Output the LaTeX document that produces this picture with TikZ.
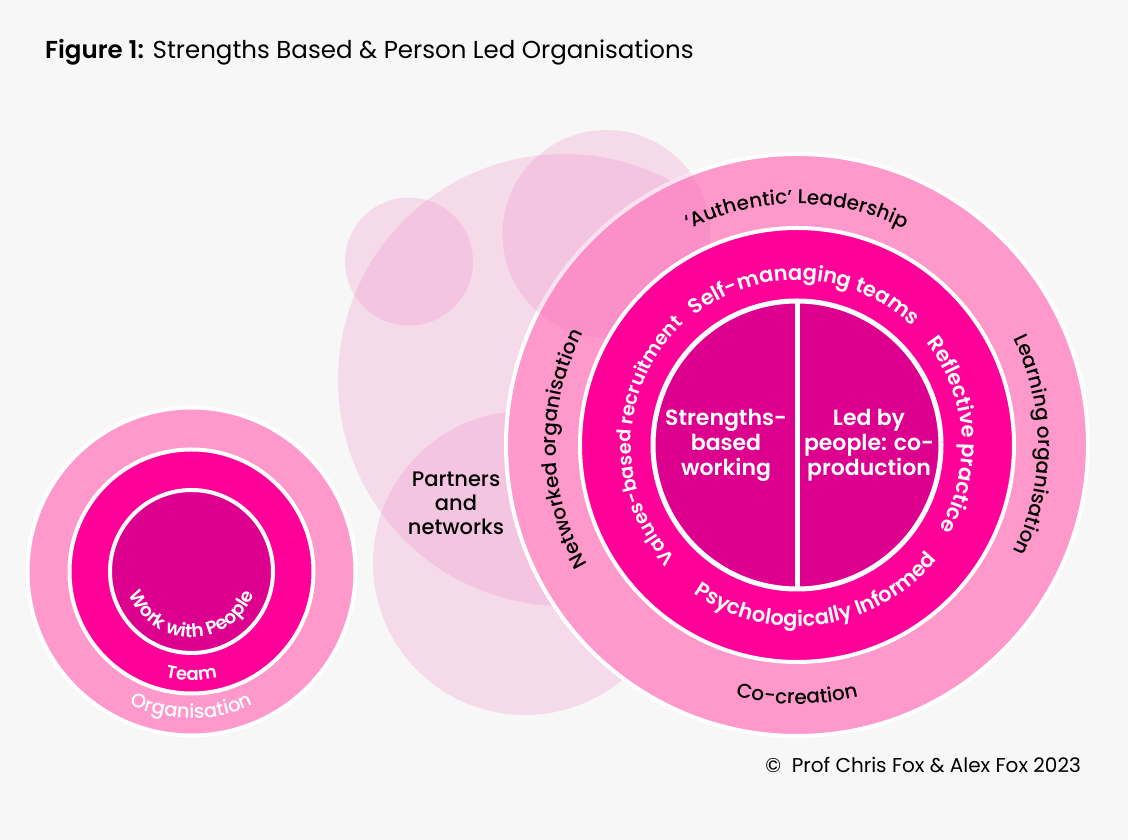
\documentclass[tikz,border=0pt]{standalone}
\usepackage{fontspec}
\setmainfont{Poppins}
\newfontfamily\popmed{Poppins Medium}
\newfontfamily\popsemi{Poppins SemiBold}
\usetikzlibrary{decorations.text}

\definecolor{bgcol}{HTML}{F7F7F7}
\definecolor{ringout}{HTML}{FF99CC}
\definecolor{ringmid}{HTML}{FF0099}
\definecolor{ringcore}{HTML}{DD008F}
\definecolor{hazecol}{HTML}{EE6FB9}

\newcommand\blackring{\popmed\fontsize{20}{20}\selectfont}
\newcommand\whitering{\popsemi\fontsize{21}{21}\selectfont}

\tikzset{
  hazedisc/.style={fill=hazecol, fill opacity=0.2},
  ringdisc/.style={fill=#1, draw=white, line width=4pt},
  ringlabel/.style n args={3}{decorate, decoration={text along path, text align=center, text color=#1, text={|#2|#3}}},
}

\begin{document}
\begin{tikzpicture}[x=1pt,y=1pt]
  \fill[bgcol] (0,0) rectangle (1128,840);
  \coordinate (bigc) at (797,395);
  \coordinate (smallc) at (191.5,268.5);

  %Shape: faint circles behind
  \fill[hazedisc] (564,460) circle[radius=226pt];
  \fill[hazedisc] (409,578.5) circle[radius=64pt];
  \fill[hazedisc] (525,277) circle[radius=152pt];

  %Shape: big circle
  \draw[ringdisc=ringout] (bigc) circle[radius=291pt];
  \fill[hazedisc] (606.5,606) circle[radius=104pt];
  \draw[ringdisc=ringmid] (bigc) circle[radius=217pt];
  \draw[ringdisc=ringcore, line width=5pt] (bigc) circle[radius=144pt];
  \draw[white, line width=5pt] ([yshift=144pt]bigc) -- ([yshift=-144pt]bigc);

  %Shape: small circle
  \draw[ringdisc=ringout] (smallc) circle[radius=164pt];
  \draw[ringdisc=ringmid] (smallc) circle[radius=122pt];
  \draw[ringdisc=ringcore] (smallc) circle[radius=81.5pt];

  % outer ring labels
  \path[ringlabel={black}{\blackring}{‘Authentic’ Leadership}] ([shift={(170:241pt)}]bigc) arc[start angle=170, end angle=10, radius=241pt];
  \path[ringlabel={black}{\blackring}{Networked organisation}] ([shift={(261:241pt)}]bigc) arc[start angle=261, end angle=101, radius=241pt];
  \path[ringlabel={black}{\blackring}{Learning organisation}] ([shift={(80:241pt)}]bigc) arc[start angle=80, end angle=-80, radius=241pt];
  \path[ringlabel={black}{\blackring}{Co-creation}] ([shift={(200:259pt)}]bigc) arc[start angle=200, end angle=340, radius=259pt];

  % middle ring labels
  \path[ringlabel={white}{\whitering}{Self-managing teams}] ([shift={(167:165pt)}]bigc) arc[start angle=167, end angle=7, radius=165pt];
  \path[ringlabel={white}{\whitering}{Reflective practice}] ([shift={(84:165pt)}]bigc) arc[start angle=84, end angle=-76, radius=165pt];
  \path[ringlabel={white}{\popsemi\fontsize{19.2}{19.2}\selectfont}{Values-based recruitment}] ([shift={(258:166pt)}]bigc) arc[start angle=258, end angle=98, radius=166pt];
  \path[ringlabel={white}{\whitering}{Psychologically Informed}] ([shift={(198:181pt)}]bigc) arc[start angle=198, end angle=358, radius=181pt];

  % small circle labels
  \path[ringlabel={white}{\popsemi\fontsize{18.5}{18.5}\selectfont}{Work with People}] ([shift={(170:66pt)}]smallc) arc[start angle=170, end angle=370, radius=66pt];
  \path[ringlabel={white}{\popsemi\fontsize{18}{18}\selectfont}{Team}] ([shift={(200:109pt)}]smallc) arc[start angle=200, end angle=340, radius=109pt];
  \path[ringlabel={white}{\popmed\fontsize{19.5}{19.5}\selectfont}{Organisation}] ([shift={(210:147pt)}]smallc) arc[start angle=210, end angle=330, radius=147pt];

  % centre texts
  \node[white, align=center, font=\popsemi\fontsize{22}{25}\selectfont] (strengths) at (726,395) {Strengths-\\based\\working};
  \node[white, align=center, font=\popsemi\fontsize{22}{25}\selectfont] (ledby) at (869,395) {Led by\\people: co-\\production};
  \node[black, align=center, font=\popmed\fontsize{21}{24}\selectfont] (partners) at (456,337) {Partners\\and\\networks};

  \node[anchor=base west, inner sep=0pt, font=\fontsize{24.5}{24.5}\selectfont] (title) at (45,781) {{\popsemi Figure 1:} Strengths Based \& Person Led Organisations};
  \node[anchor=base east, inner sep=0pt, font=\fontsize{20}{20}\selectfont] (credit) at (1081,67) {©\ \ Prof Chris Fox \& Alex Fox 2023};
\end{tikzpicture}
\end{document}
